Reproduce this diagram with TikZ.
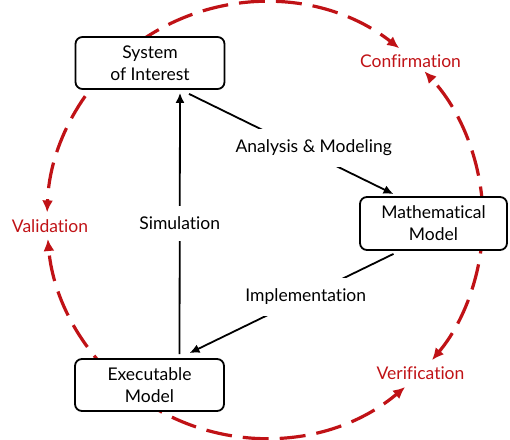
\documentclass[tikz,border=0pt]{standalone}
\usepackage{fontspec}
\setmainfont{Lato}[Ligatures=NoCommon]
\usetikzlibrary{arrows.meta}
\definecolor{loopred}{RGB}{192,18,22}

\begin{document}
\begin{tikzpicture}[x=1pt, y=1pt,
		box/.style={draw=black, line width=1.8pt, rounded corners=7pt, fill=white, minimum width=149pt, minimum height=52pt, align=center, font=\fontsize{17.5}{22}\selectfont},
		flow/.style={draw=black, line width=1.8pt, -{Latex[length=10pt,width=9pt]}},
		flowlabel/.style={fill=white, inner xsep=2pt, inner ysep=11pt, font=\fontsize{17.5}{20}\selectfont},
		loop/.style={draw=loopred, line width=3.2pt, dash pattern=on 26pt off 11pt, -{Latex[length=12pt,width=11pt]}},
		looplabel/.style={text=loopred, font=\fontsize{17.5}{20}\selectfont}]
		\useasboundingbox (0,0) rectangle (510,439);
		\pgfmathsetmacro{\loopr}{218}
		\coordinate (c) at (265,219);
		\foreach \a/\b in {126/52, 2/43, -2/-40, 235/310, 235/185, 126/178}
			\draw[loop] (c) ++(\a:\loopr) arc[start angle=\a, end angle=\b, radius=\loopr];

		\node[looplabel] (conf) at (410.5,378) {Confirmation};
		\node[looplabel] (valid) at (50,213) {Validation};
		\node[looplabel] (verif) at (420.5,66) {Verification};

		\node[box] (sys) at (150,376) {System\\of Interest};
		\node[box, minimum width=147pt, minimum height=53pt] (math) at (433.5,215.5) {Mathematical\\Model};
		\node[box] (exec) at (149.5,54) {Executable\\Model};

		\draw[flow] ([xshift=30pt, yshift=4pt]exec.north) -- ([xshift=30pt, yshift=-3pt]sys.south) node[flowlabel, pos=.5] {Simulation};
		\draw[flow] ([xshift=39pt, yshift=-4pt]sys.south) -- ([xshift=-40pt, yshift=2pt]math.north) node[flowlabel, pos=.61, yshift=7pt] {Analysis \& Modeling};
		\draw[flow] ([xshift=-40pt, yshift=-3pt]math.south) -- ([xshift=40pt, yshift=5pt]exec.north) node[flowlabel, pos=.43] {Implementation};
	\end{tikzpicture}
\end{document}
